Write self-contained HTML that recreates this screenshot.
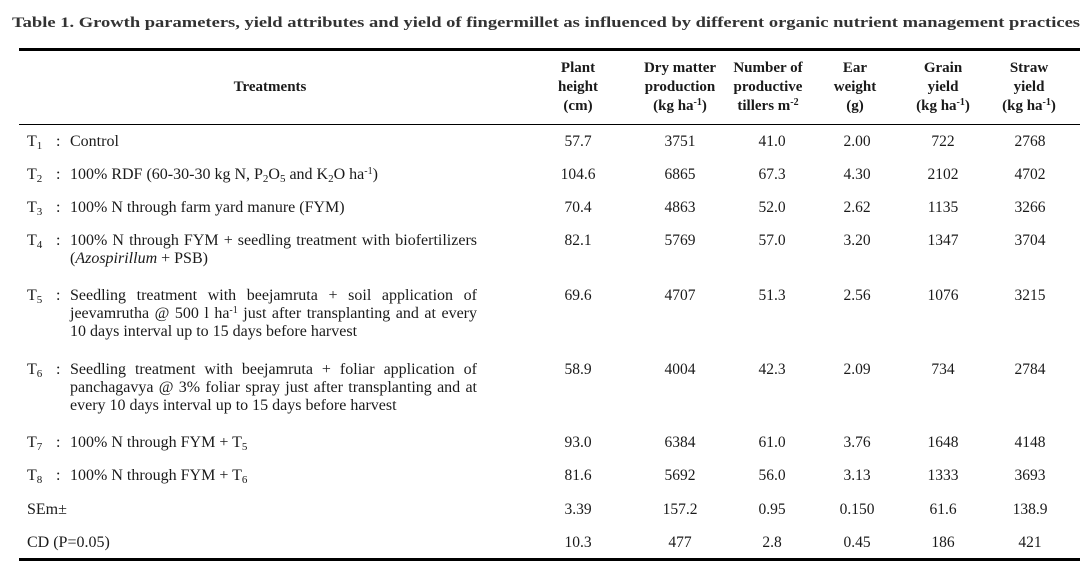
<!DOCTYPE html>
<html><head><meta charset="utf-8"><style>
html,body{margin:0;padding:0;background:#fff;}
body{width:1085px;height:562px;position:relative;overflow:hidden;font-family:"Liberation Serif",serif;color:#1a1a1a;}
div{position:absolute;white-space:nowrap;line-height:18px;}
.t{font-size:16px;}
.j{font-size:16px;width:407px;text-align:justify;text-align-last:justify;white-space:normal;}
.h{font-size:15px;font-weight:bold;text-align:center;width:110px;line-height:19px;}
.v{font-size:15.5px;text-align:center;width:80px;}
sub{font-size:11px;vertical-align:-3px;line-height:0;}
sup{font-size:10px;vertical-align:5px;line-height:0;}
.r{background:#000;left:19px;width:1061px;}
</style></head><body>
<svg width="1085" height="40" style="position:absolute;left:0;top:0"><text x="12" y="27" style="font-family:'Liberation Serif',serif;font-size:15px;font-weight:bold;fill:#333" textLength="1068" lengthAdjust="spacingAndGlyphs">Table 1. Growth parameters, yield attributes and yield of fingermillet as influenced by different organic nutrient management practices</text></svg>
<div class="r" style="top:48px;height:2.5px"></div>
<div class="r" style="top:124px;height:1px"></div>
<div class="r" style="top:558px;height:2.5px"></div>

<div class="h" style="left:215px;top:78px">Treatments</div>
<div class="h" style="left:523px;top:59px">Plant<br>height<br>(cm)</div>
<div class="h" style="left:625px;top:59px">Dry matter<br>production<br>(kg ha<sup>-1</sup>)</div>
<div class="h" style="left:713px;top:59px">Number of<br>productive<br>tillers m<sup>-2</sup></div>
<div class="h" style="left:800px;top:59px">Ear<br>weight<br>(g)</div>
<div class="h" style="left:888px;top:59px">Grain<br>yield<br>(kg ha<sup>-1</sup>)</div>
<div class="h" style="left:974px;top:59px">Straw<br>yield<br>(kg ha<sup>-1</sup>)</div>

<div class="t" style="left:27px;top:133px">T<sub>1</sub></div><div class="t" style="left:56px;top:133px">:</div><div class="t" style="left:70px;top:133px">Control</div>
<div class="t" style="left:27px;top:166px">T<sub>2</sub></div><div class="t" style="left:56px;top:166px">:</div><div class="t" style="left:70px;top:166px">100% RDF (60-30-30 kg N, P<sub>2</sub>O<sub>5</sub> and K<sub>2</sub>O ha<sup>-1</sup>)</div>
<div class="t" style="left:27px;top:199px">T<sub>3</sub></div><div class="t" style="left:56px;top:199px">:</div><div class="t" style="left:70px;top:199px">100% N through farm yard manure (FYM)</div>
<div class="t" style="left:27px;top:232px">T<sub>4</sub></div><div class="t" style="left:56px;top:232px">:</div>
<div class="j" style="left:70px;top:232px">100% N through FYM + seedling treatment with biofertilizers</div>
<div class="t" style="left:70px;top:250px">(<i>Azospirillum</i> + PSB)</div>
<div class="t" style="left:27px;top:287px">T<sub>5</sub></div><div class="t" style="left:56px;top:287px">:</div>
<div class="j" style="left:70px;top:287px">Seedling treatment with beejamruta + soil application of</div>
<div class="j" style="left:70px;top:305px">jeevamrutha @ 500 l ha<sup>-1</sup> just after transplanting and at every</div>
<div class="t" style="left:70px;top:323px">10 days interval up to 15 days before harvest</div>
<div class="t" style="left:27px;top:361px">T<sub>6</sub></div><div class="t" style="left:56px;top:361px">:</div>
<div class="j" style="left:70px;top:361px">Seedling treatment with beejamruta + foliar application of</div>
<div class="j" style="left:70px;top:379px">panchagavya @ 3% foliar spray just after transplanting and at</div>
<div class="t" style="left:70px;top:397px">every 10 days interval up to 15 days before harvest</div>
<div class="t" style="left:27px;top:434px">T<sub>7</sub></div><div class="t" style="left:56px;top:434px">:</div><div class="t" style="left:70px;top:434px">100% N through FYM + T<sub>5</sub></div>
<div class="t" style="left:27px;top:467px">T<sub>8</sub></div><div class="t" style="left:56px;top:467px">:</div><div class="t" style="left:70px;top:467px">100% N through FYM + T<sub>6</sub></div>
<div class="t" style="left:27px;top:501px">SEm±</div>
<div class="t" style="left:27px;top:534px">CD (P=0.05)</div>

<div class="v" style="left:538px;top:133px">57.7</div><div class="v" style="left:640px;top:133px">3751</div><div class="v" style="left:732px;top:133px">41.0</div><div class="v" style="left:817px;top:133px">2.00</div><div class="v" style="left:903px;top:133px">722</div><div class="v" style="left:990px;top:133px">2768</div>
<div class="v" style="left:538px;top:166px">104.6</div><div class="v" style="left:640px;top:166px">6865</div><div class="v" style="left:732px;top:166px">67.3</div><div class="v" style="left:817px;top:166px">4.30</div><div class="v" style="left:903px;top:166px">2102</div><div class="v" style="left:990px;top:166px">4702</div>
<div class="v" style="left:538px;top:199px">70.4</div><div class="v" style="left:640px;top:199px">4863</div><div class="v" style="left:732px;top:199px">52.0</div><div class="v" style="left:817px;top:199px">2.62</div><div class="v" style="left:903px;top:199px">1135</div><div class="v" style="left:990px;top:199px">3266</div>
<div class="v" style="left:538px;top:232px">82.1</div><div class="v" style="left:640px;top:232px">5769</div><div class="v" style="left:732px;top:232px">57.0</div><div class="v" style="left:817px;top:232px">3.20</div><div class="v" style="left:903px;top:232px">1347</div><div class="v" style="left:990px;top:232px">3704</div>
<div class="v" style="left:538px;top:287px">69.6</div><div class="v" style="left:640px;top:287px">4707</div><div class="v" style="left:732px;top:287px">51.3</div><div class="v" style="left:817px;top:287px">2.56</div><div class="v" style="left:903px;top:287px">1076</div><div class="v" style="left:990px;top:287px">3215</div>
<div class="v" style="left:538px;top:361px">58.9</div><div class="v" style="left:640px;top:361px">4004</div><div class="v" style="left:732px;top:361px">42.3</div><div class="v" style="left:817px;top:361px">2.09</div><div class="v" style="left:903px;top:361px">734</div><div class="v" style="left:990px;top:361px">2784</div>
<div class="v" style="left:538px;top:434px">93.0</div><div class="v" style="left:640px;top:434px">6384</div><div class="v" style="left:732px;top:434px">61.0</div><div class="v" style="left:817px;top:434px">3.76</div><div class="v" style="left:903px;top:434px">1648</div><div class="v" style="left:990px;top:434px">4148</div>
<div class="v" style="left:538px;top:467px">81.6</div><div class="v" style="left:640px;top:467px">5692</div><div class="v" style="left:732px;top:467px">56.0</div><div class="v" style="left:817px;top:467px">3.13</div><div class="v" style="left:903px;top:467px">1333</div><div class="v" style="left:990px;top:467px">3693</div>
<div class="v" style="left:538px;top:501px">3.39</div><div class="v" style="left:640px;top:501px">157.2</div><div class="v" style="left:732px;top:501px">0.95</div><div class="v" style="left:817px;top:501px">0.150</div><div class="v" style="left:903px;top:501px">61.6</div><div class="v" style="left:990px;top:501px">138.9</div>
<div class="v" style="left:538px;top:534px">10.3</div><div class="v" style="left:640px;top:534px">477</div><div class="v" style="left:732px;top:534px">2.8</div><div class="v" style="left:817px;top:534px">0.45</div><div class="v" style="left:903px;top:534px">186</div><div class="v" style="left:990px;top:534px">421</div>
</body></html>
